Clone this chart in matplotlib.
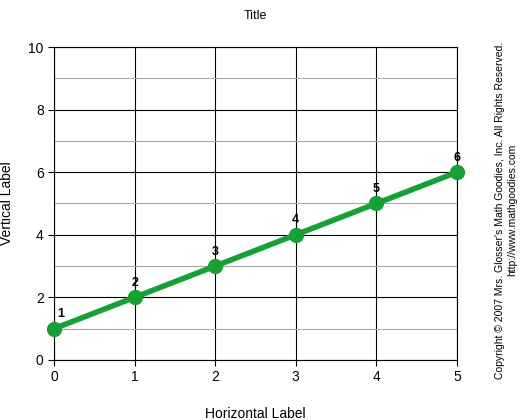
import matplotlib
matplotlib.use("Agg")
import matplotlib.pyplot as plt

plt.rcParams['font.family'] = ['Liberation Sans', 'DejaVu Sans']

x = [0, 1, 2, 3, 4, 5]
y = [1, 2, 3, 4, 5, 6]
labels = ["1", "2", "3", "4", "5", "6"]

fig = plt.figure(figsize=(5.3, 4.2), dpi=100)
ax = fig.add_axes([0.102, 0.143, 0.760, 0.745])
ax.set_xlim(0, 5)
ax.set_ylim(0, 10)
ax.set_xticks(range(0, 6))
ax.set_yticks(range(0, 11, 2))
ax.set_yticks(range(1, 11, 2), minor=True)
ax.grid(True, which="major", color="black", linewidth=0.8)
ax.grid(True, which="minor", axis="y", color="#aaaaaa", linewidth=0.8)
ax.tick_params(which="minor", length=0)
ax.tick_params(which="major", length=4, labelsize=10)
for s in ax.spines.values():
    s.set_color("black")
ax.set_axisbelow(True)
ax.plot(x, y, color="#17a034", linewidth=4, marker="o", markersize=10, clip_on=False, zorder=5)
for xi, yi, t in zip(x, y, labels):
    ax.annotate(t, (xi, yi), xytext=(5 if xi == 0 else 0, 6), textcoords="offset points",
                ha="center", va="bottom", fontsize=9, fontweight="bold")
ax.set_xlabel("Horizontal Label", fontsize=10, labelpad=16)
ax.set_ylabel("Vertical Label", fontsize=10, labelpad=10)
fig.text(0.482, 0.962, "Title", ha="center", va="center", fontsize=9)
fig.text(0.943, 0.5, "Copyright © 2007 Mrs. Glosser's Math Goodies, Inc. All Rights Reserved.",
         rotation=90, ha="center", va="center", fontsize=7.5)
fig.text(0.966, 0.5, "http://www.mathgoodies.com", rotation=90, ha="center", va="center", fontsize=7.5)
fig.savefig("out.png", dpi=100)
